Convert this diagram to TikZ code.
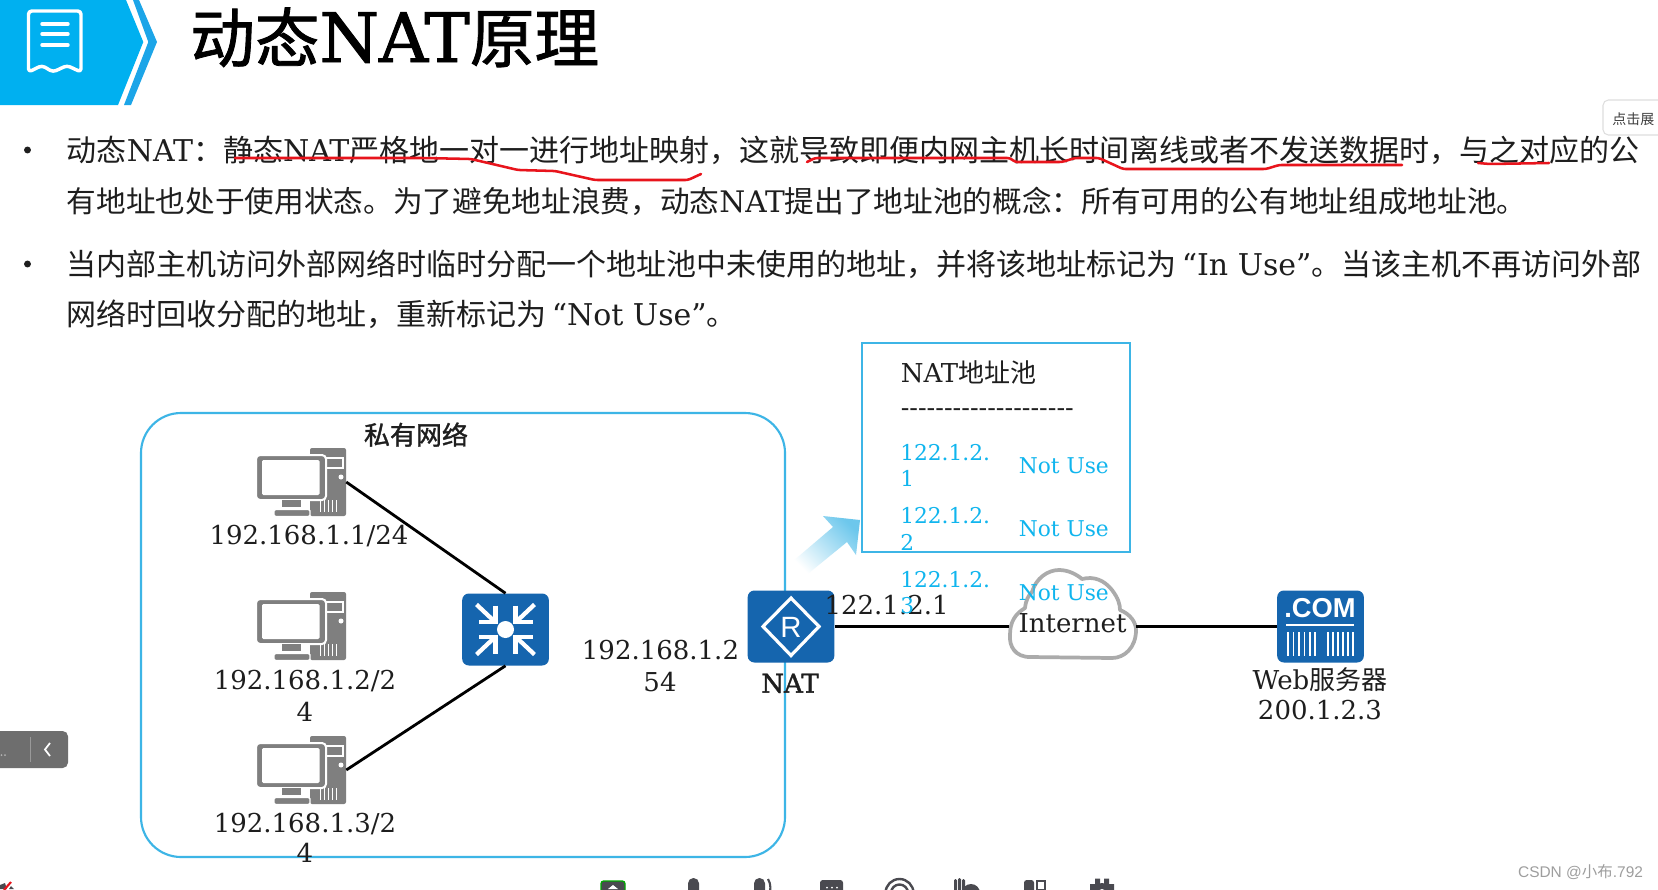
\documentclass[tikz,border=0pt]{standalone}
\usepackage{fontspec}
\setmainfont{DejaVu Serif}
\newfontfamily\cj{Noto Sans CJK SC}
\newfontfamily\cjheavy[FakeBold=1.3]{Noto Sans CJK SC}
\newfontfamily\fakelat[FakeBold=1.4]{DejaVu Serif}
\newfontfamily\arl{Liberation Sans}
\newcommand{\C}[1]{{\cj #1}}
\newcommand{\CB}[1]{{\cjheavy #1}}
\usetikzlibrary{calc}
\definecolor{hdblue}{HTML}{00B0F0}
\definecolor{hdstrip}{HTML}{1CA5E8}
\definecolor{boxblue}{HTML}{3DB5E6}
\definecolor{poolcyan}{HTML}{10B5EE}
\definecolor{iconblue}{HTML}{1565AE}
\definecolor{pcgray}{HTML}{7F7F7F}
\definecolor{inkred}{HTML}{E8141C}
\definecolor{tooldark}{HTML}{4A4A50}
\definecolor{bodyink}{HTML}{1E1E1E}
\tikzset{
  x=0.75pt,y=-0.75pt,
  bodytxt/.style={font=\fontsize{22.5}{26}\selectfont,text=bodyink,inner sep=0pt,anchor=west,text height=16.8pt,text depth=0pt},
  diagtxt/.style={font=\fontsize{19.5}{23}\selectfont,text=bodyink,inner sep=0pt,text height=14.5pt,text depth=0pt},
  pooltxt/.style={font=\fontsize{16.3}{20}\selectfont,text=poolcyan,inner sep=0pt,anchor=west,text height=12.2pt,text depth=0pt},
  iconbox/.style={inner sep=0pt,minimum width=66pt,minimum height=51pt},
  blueicon/.style={fill=iconblue,draw=none,rounded corners=5pt,inner sep=0pt,minimum width=65pt,minimum height=54pt},
  link/.style={draw=black,line width=2.1pt},
  redink/.style={draw=inkred,line width=1.9pt,line cap=round,line join=round,rounded corners=2pt},
  tool/.style={fill=tooldark,draw=none},
  pcicon/.pic={
    \fill[pcgray,rounded corners=1.5pt] (8,-34) rectangle (44,34);
    \draw[white,line width=1pt] (23,-24) rectangle (41,-14);
    \fill[white] (39,-5) circle (2.5);
    \foreach \vx in {18,22,26,30,34}{\draw[white,line width=0.7pt] (\vx,18) -- (\vx,30);}
    \draw[white,line width=1.5pt,fill=pcgray,rounded corners=3pt] (-46,-27) rectangle (24,18);
    \fill[white,rounded corners=1pt] (-40,-22) rectangle (17.5,13);
    \fill[pcgray] (-20,18) rectangle (-1,25);
    \draw[white,line width=1pt,fill=pcgray,rounded corners=1pt] (-28,27.5) rectangle (8,34.5);
  },
}
\newcommand{\swarrowicon}[2]{%
  \begin{scope}[shift={(505.5,629.5)},xscale=#1,yscale=#2,white,line width=3.2pt,line join=miter]
    \draw (-29,-25) -- (-12,-9);
    \draw (-10,-24) -- (-10,-7.5) -- (-27,-7.5);
  \end{scope}}
\begin{document}
\begin{tikzpicture}
\path[use as bounding box] (0,0) rectangle (1658,889);
\clip (0,0) rectangle (1658,889);
\fill[white] (0,0) rectangle (1658,889);

% header
\fill[hdblue] (0,0) -- (126,0) -- (143.3,42) -- (118,105) -- (0,105) -- cycle;
\fill[hdstrip] (133,0) -- (139,0) -- (157,42) -- (131,105) -- (124,105) -- (148.3,42) -- cycle;
\draw[white,line width=2.6pt,rounded corners=2.5pt,line join=round] (28.5,72) -- (28.5,11) -- (81,11) -- (81,72) -- (67,65.5) -- (53,72) -- (42,65.5) -- cycle;
\foreach \ly in {24,34,45}{\draw[white,line width=2.6pt,line cap=round] (42,\ly) -- (68,\ly);}
\node[anchor=west,inner sep=0pt,text=black,text height=36pt,text depth=0pt,font=\fontsize{48.5}{56}\selectfont] (title) at (190,38) {\CB{动态}{\fakelat\fontsize{51}{56}\selectfont NAT}\CB{原理}};

% body
\node[circle,fill=bodyink,inner sep=0pt,minimum size=5.2pt] (b1) at (27.5,150) {};
\node[circle,fill=bodyink,inner sep=0pt,minimum size=5.2pt] (b2) at (27.5,264) {};
\node[bodytxt] (l1) at (66.5,150) {\C{动态}NAT\C{：静态}NAT\C{严格地一对一进行地址映射，这就导致即便内网主机长时间离线或者不发送数据时，与之对应的公}};
\node[bodytxt,font=\fontsize{22.25}{26}\selectfont] (l2) at (66.5,201) {\C{有地址也处于使用状态。为了避免地址浪费，动态}NAT\C{提出了地址池的概念：所有可用的公有地址组成地址池。}};
\node[bodytxt] (l3) at (66.5,264) {\C{当内部主机访问外部网络时临时分配一个地址池中未使用的地址，并将该地址标记为}\,“In Use”\C{。当该主机不再访问外部}};
\node[bodytxt] (l4) at (66.5,314) {\C{网络时回收分配的地址，重新标记为}\,“Not Use”\C{。}};

% red pen strokes
\draw[redink] (235,158) -- (423,158) -- (471,159) -- (518,170) -- (555,171) -- (595,180) -- (688,180) -- (701,174);
\draw[redink] (807,162) -- (815,158) -- (1010,158) -- (1015,162) -- (1062,162) -- (1075,158) -- (1099,158) -- (1123,169) -- (1266,169) -- (1279,165) -- (1402,165);
\draw[redink] (1478,163) -- (1490,164) -- (1549,163);

% private network container
\draw[boxblue,line width=1.6pt,rounded corners=30pt] (141,413) rectangle (785,857);
\node[diagtxt,font=\fontsize{19.5}{23}\selectfont] (privlabel) at (416,435) {\CB{私有网络}};

% PCs
\node[iconbox] (pc1) at (302,482) {};
\node[iconbox] (pc2) at (302,626) {};
\node[iconbox] (pc3) at (302,770) {};
\pic at (pc1.center) {pcicon};
\pic at (pc2.center) {pcicon};
\pic at (pc3.center) {pcicon};
\node[diagtxt] (ip1) at (309,535) {192.168.1.1/24};
\node[diagtxt] (ip2) at (305,680) {192.168.1.2/2};
\node[diagtxt] (ip2b) at (305,712) {4};
\node[diagtxt] (ip3) at (305,823) {192.168.1.3/2};
\node[diagtxt] (ip3b) at (305,853) {4};

% switch
\node[blueicon] (sw) at (505.5,629.5) {};
\swarrowicon{1}{1}\swarrowicon{-1}{1}\swarrowicon{1}{-1}\swarrowicon{-1}{-1}
\fill[white] (sw.center) circle (8.5);
\draw[link] (pc1.east) -- (sw.north);
\draw[link] (pc3.east) -- (sw.south);

\node[diagtxt] (gw1) at (660.5,650) {192.168.1.2};
\node[diagtxt] (gw2) at (660,682) {54};

% arrow to pool
\shade[shading=axis,top color=boxblue!75!white,bottom color=white,shading angle=-45,draw=none]
  (860,520) -- (856,555) -- (847,542) -- (804,577) -- (792,562) -- (833,527) -- (823,516) -- cycle;

% router
\node[blueicon,minimum height=54pt] (nat) at (791,626.5) {};
\draw[white,line width=2.4pt] (791,598) -- (819,626.5) -- (791,655.5) -- (763,626.5) -- cycle;
\node[inner sep=0pt,text=white,font=\arl\fontsize{22}{24}\selectfont] (rmark) at (791,627) {R};
\node[diagtxt,font=\fakelat\fontsize{19.5}{23}\selectfont] (natlabel) at (790,683) {NAT};

% cloud
\draw[draw=black!33,line width=2.8pt,fill=white,line join=round]
  (1030,657) .. controls (1015,657) and (1009,646) .. (1010,635)
  .. controls (1010,622) and (1015,614) .. (1025,608)
  .. controls (1026,600) and (1028,596) .. (1032,592)
  .. controls (1036,578) and (1048,570) .. (1059,570)
  .. controls (1068,570) and (1076,574) .. (1082,579)
  .. controls (1094,576) and (1104,580) .. (1112,590)
  .. controls (1118,598) and (1120,604) .. (1120,610)
  .. controls (1130,614) and (1136,622) .. (1136,630)
  .. controls (1136,648) and (1124,658) .. (1112,658)
  -- cycle;
\node[diagtxt,minimum width=95pt] (cloud) at (1072.5,626.5) {};
\node[diagtxt] (inet) at (1072.5,623) {Internet};

% web server
\node[blueicon,minimum height=54pt] (web) at (1320.5,626.5) {};
\node[inner sep=0pt,text=white,font=\arl\bfseries\fontsize{20.5}{23}\selectfont] (com) at (1320,608) {.COM};
\draw[white,line width=1.5pt] (1286,625) -- (1354,625);
\foreach \bx in {1288,1293.5,1299,1304.5,1310,1315,1328,1333,1338,1343,1348,1353}{\draw[white,line width=1.1pt] (\bx,632) -- (\bx,656);}
\node[diagtxt] (weblabel) at (1320,680) {Web\C{服务器}};
\node[diagtxt] (webip) at (1320,710) {200.1.2.3};

% links
\draw[link,line width=2.3pt] (nat.east) -- (cloud.west);
\draw[link,line width=2.3pt] (cloud.east) -- (web.west);
\node[diagtxt] (wanip) at (886.6,605) {122.1.2.1};

% address pool
\draw[boxblue,line width=1.6pt] (862,343) rectangle (1130,552);
\node[diagtxt,anchor=west] (pooltitle) at (900.5,373) {NAT\C{地址池}};
\node[diagtxt,anchor=west,font=\fontsize{19.2}{23}\selectfont] (pooldash) at (900.5,407) {-{}-{}-{}-{}-{}-{}-{}-{}-{}-{}-{}-{}-{}-{}-{}-{}-{}-{}-{}-{}};
\node[pooltxt] (a1) at (900,452) {122.1.2.};
\node[pooltxt] (a1b) at (900,478) {1};
\node[pooltxt] (s1) at (1018.5,465) {Not Use};
\node[pooltxt] (a2) at (900,515) {122.1.2.};
\node[pooltxt] (a2b) at (900,542) {2};
\node[pooltxt] (s2) at (1018.5,528) {Not Use};
\node[pooltxt] (a3) at (900,579) {122.1.2.};
\node[pooltxt] (a3b) at (900,605) {3};
\node[pooltxt] (s3) at (1018.5,592) {Not Use};

% right tab
\draw[black!13,fill=white,line width=0.8pt,rounded corners=4pt] (1603,100) rectangle (1680,135);
\node[anchor=west,inner sep=0pt,text=black!75,font=\cj\fontsize{10.5}{12}\selectfont] (tab) at (1612,119) {点击展};

% left widget
\fill[black!57,rounded corners=4pt] (-8,731) rectangle (68,768);
\draw[black!40,line width=0.7pt] (30,737) -- (30,762);
\draw[white,line width=1.3pt] (50,743) -- (45,749.5) -- (50,756);
\fill[black!30] (1.5,755) circle (1) (5,755) circle (1);

% bottom left remains
\fill[tooldark] (0,889) -- (0,885) -- (5,883) -- (7,889) -- cycle;
\fill[tooldark] (9,889) -- (11,886) -- (14,889) -- cycle;
\draw[inkred,line width=1.6pt] (4,890) -- (11,882);

% bottom toolbar
\draw[draw=green!65!black,fill=tooldark,line width=1pt,rounded corners=2pt] (601,881) rectangle (625,900);
\fill[white] (613,885) -- (608,889) -- (618,889) -- cycle;
\fill[tool,rounded corners=4pt] (688,878) rectangle (699,900);
\fill[tool,rounded corners=4pt] (754,878) rectangle (765,900);
\draw[tooldark,line width=1.6pt] (768,879) .. controls (771,884) and (771,890) .. (769,896);
\fill[tool,rounded corners=2pt] (820,880) rectangle (843,900);
\foreach \dx in {827,832,837}{\fill[white] (\dx,887.5) circle (1);}
\draw[tooldark,line width=1.8pt] (899.5,893) circle (14);
\draw[tooldark,line width=1.8pt] (899.5,893) circle (8.5);
\fill[tool,rounded corners=1pt] (954,879) rectangle (957,900) (958,878) rectangle (961,900) (962,879) rectangle (965,900);
\fill[tool] (971,893) circle (9);
\fill[tool,rounded corners=2pt] (1024,880) rectangle (1034,900);
\draw[tooldark,line width=1.3pt] (1037,881) rectangle (1045,890);
\fill[tool] (1102,895) circle (12);
\fill[tool] (1095,878.5) rectangle (1100,886) (1104,878.5) rectangle (1109,886) (1090,884) rectangle (1114,890);
\fill[white] (1102,893) circle (4);

% watermark
\node[inner sep=0pt,text=black!38,font=\arl\fontsize{11.6}{14}\selectfont] (wm) at (1580.5,872) {CSDN @\C{小布}.792};
\end{tikzpicture}
\end{document}
